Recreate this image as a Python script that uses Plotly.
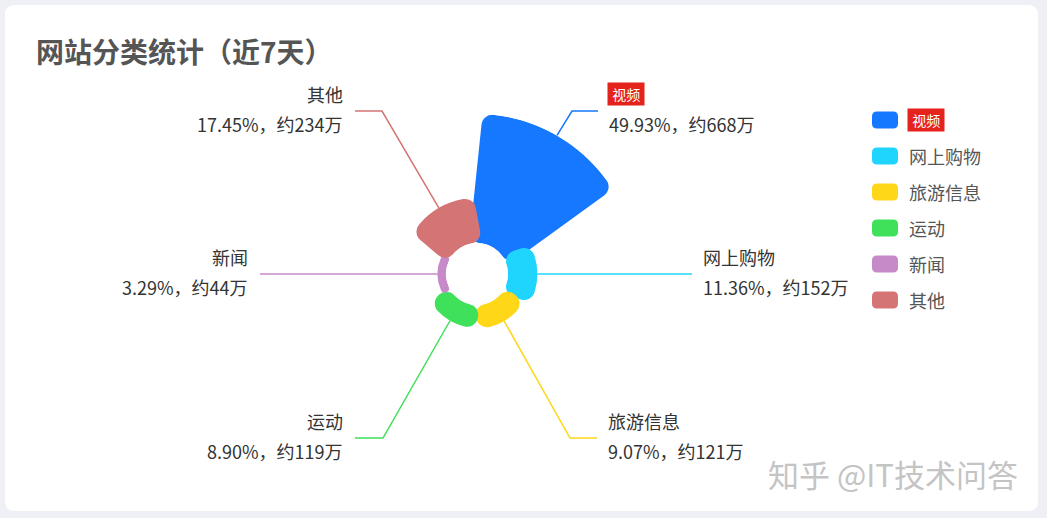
import math
import plotly.graph_objects as go

# ---------------- data ----------------
categories = ["视频", "网上购物", "旅游信息", "运动", "新闻", "其他"]
values = [668, 152, 121, 119, 44, 234]          # 约 x 万
percents = ["49.93%", "11.36%", "9.07%", "8.90%", "3.29%", "17.45%"]
colors = ["#1677ff", "#1fd5fd", "#fed718", "#3fe05a", "#c68ac9", "#d47474"]
title_text = "网站分类统计（近7天）"
watermark = "知乎 @IT技术问答"

# ---------------- layout constants ----------------
W, H = 1047, 518
FONT = "Noto Sans CJK SC"
CX, CY = 477, 274          # pie centre (px)
R_OUT, R_IN = 160, 31      # outer radius / hole (px)
K_MAX = 11                 # corner rounding (px)
n = len(categories)
sector = 360 / n
thetas = [sector / 2 + i * sector for i in range(n)]

# leader line elbows / ends (px) and side of label
elbows = [(572, 111), (600, 274), (570, 438), (383, 438), (380, 274), (382, 111)]
ends = [(598, 111), (692, 274), (597, 438), (355, 438), (260, 274), (355, 111)]
sides = ["right", "right", "right", "left", "left", "left"]


def px2paper(x, y):
    return x / W, 1 - y / H


def pix_path(points, close=False):
    s = "M " + " L ".join(f"{x:.2f},{-y:.2f}" for x, y in points)
    return s + (" Z" if close else "")


def round_rect(x0, y0, x1, y1, r):
    Y0, Y1 = -y0, -y1
    return (f"M {x0+r},{Y0} L {x1-r},{Y0} Q {x1},{Y0} {x1},{Y0-r} "
            f"L {x1},{Y1+r} Q {x1},{Y1} {x1-r},{Y1} L {x0+r},{Y1} "
            f"Q {x0},{Y1} {x0},{Y1+r} L {x0},{Y0-r} Q {x0},{Y0} {x0+r},{Y0} Z")


def pix_shape(path, fill=None, line_color=None, line_width=0, layer="below"):
    d = dict(type="path", xref="paper", yref="paper", xsizemode="pixel",
             ysizemode="pixel", xanchor=0, yanchor=1, path=path, layer=layer,
             line=dict(color=line_color or "rgba(0,0,0,0)", width=line_width))
    if fill:
        d["fillcolor"] = fill
    return d


vmax = max(values)
px_per_val = (R_OUT - R_IN) / vmax

# bars shrunk by k on every side; a round-joined stroke of width 2k restores size
bases, lengths, widths, strokes = [], [], [], []
for v in values:
    thick = v * px_per_val
    k = min(K_MAX, thick / 2 - 0.25)
    inner_px = R_IN + k
    outer_px = R_IN + thick - k
    bases.append(k / px_per_val)
    lengths.append((outer_px - inner_px) / px_per_val)
    r_mid = (inner_px + outer_px) / 2
    widths.append(sector - 2 * math.degrees(k / r_mid) * 0.9)
    strokes.append(2 * k)

fig = go.Figure()
fig.add_trace(go.Barpolar(
    r=lengths, base=bases, theta=thetas, width=widths,
    marker=dict(color=colors, line=dict(color=colors, width=strokes)),
    showlegend=False, hoverinfo="skip",
))

shapes = [pix_shape(round_rect(5, 5, 1038, 511, 10), fill="white")]

annotations = []
for i in range(n):
    rpx = R_IN + values[i] * px_per_val
    a = math.radians(thetas[i])
    sx, sy = CX + rpx * math.sin(a), CY - rpx * math.cos(a)
    shapes.append(pix_shape(pix_path([(sx, sy), elbows[i], ends[i]]),
                            line_color=colors[i], line_width=1.5, layer="above"))
    ex, ey = ends[i]
    if sides[i] == "right":
        tx, anchor = ex + 9, "left"
    else:
        tx, anchor = ex - 10, "right"
    xn, yn = px2paper(tx, ey - 17)
    if i == 0:
        annotations.append(dict(x=xn, y=yn, xref="paper", yref="paper",
                                xanchor=anchor, yanchor="middle", showarrow=False,
                                text=" " + categories[i] + " ", bgcolor="#e3231c",
                                borderpad=1,
                                font=dict(family=FONT, size=14, color="white")))
    else:
        annotations.append(dict(x=xn, y=yn, xref="paper", yref="paper",
                                xanchor=anchor, yanchor="middle", showarrow=False,
                                text=categories[i],
                                font=dict(family=FONT, size=18, color="#333333")))
    xv, yv = px2paper(tx, ey + 13)
    annotations.append(dict(x=xv, y=yv, xref="paper", yref="paper",
                            xanchor=anchor, yanchor="middle", showarrow=False,
                            text=f"{percents[i]}，约{values[i]}万",
                            font=dict(family=FONT, size=18, color="#333333")))

# custom legend
for i in range(n):
    cy = 120 + i * 36
    shapes.append(pix_shape(round_rect(872, cy - 8.5, 898, cy + 8.5, 5),
                            fill=colors[i], layer="above"))
    lx, ly = px2paper(907, cy)
    if i == 0:
        annotations.append(dict(x=lx, y=ly, xref="paper", yref="paper",
                                xanchor="left", yanchor="middle", showarrow=False,
                                text=" " + categories[i] + " ", bgcolor="#e3231c",
                                borderpad=1,
                                font=dict(family=FONT, size=14, color="white")))
    else:
        annotations.append(dict(x=lx, y=ly, xref="paper", yref="paper",
                                xanchor="left", yanchor="middle", showarrow=False,
                                text=categories[i],
                                font=dict(family=FONT, size=18, color="#555555")))

tx, ty = px2paper(34, 51)
annotations.append(dict(x=tx, y=ty, xref="paper", yref="paper", xanchor="left",
                        yanchor="middle", showarrow=False, text=f"<b>{title_text}</b>",
                        font=dict(family=FONT, size=28, color="#555555")))
wx, wy = px2paper(1020, 473)
annotations.append(dict(x=wx, y=wy, xref="paper", yref="paper", xanchor="right",
                        yanchor="middle", showarrow=False, text=watermark,
                        font=dict(family=FONT, size=31, color="#c4c4c4")))

x0, y0 = px2paper(CX - R_OUT, CY + R_OUT)
x1, y1 = px2paper(CX + R_OUT, CY - R_OUT)

fig.update_layout(
    width=W, height=H, margin=dict(l=0, r=0, t=0, b=0),
    paper_bgcolor="#eef0f5", plot_bgcolor="rgba(0,0,0,0)",
    polar=dict(
        domain=dict(x=[x0, x1], y=[y0, y1]),
        bgcolor="rgba(0,0,0,0)",
        hole=R_IN / R_OUT,
        radialaxis=dict(range=[0, vmax], visible=False),
        angularaxis=dict(rotation=90, direction="clockwise", visible=False),
    ),
    shapes=shapes, annotations=annotations, showlegend=False,
    font=dict(family=FONT),
)

post = ("document.body.style.margin='0';"
        "document.body.style.background='#eef0f5';"
        "document.querySelectorAll('.barlayer path').forEach(function(p){"
        "p.style.strokeLinejoin='round';});")
fig.write_html("out.html", post_script=post, config={"displayModeBar": False})
